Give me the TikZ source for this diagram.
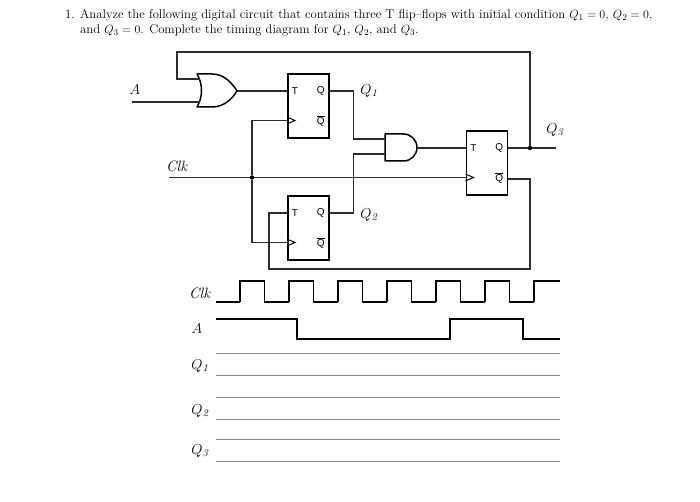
\documentclass[tikz,border=0pt]{standalone}
\usepackage{amsmath}
\usepackage{fontspec}
\usetikzlibrary{positioning, calc}
\newfontfamily\pinfont{Liberation Sans}
\definecolor{colWire}{RGB}{45, 45, 45}
\definecolor{colGrid}{RGB}{135, 135, 135}
\tikzset{
    wire/.style={colWire, line width=1.2pt},
    wave/.style={black, line width=1.6pt},
    gridline/.style={colGrid, line width=1pt},
    ffbox/.style={draw=black, line width=1.7pt, rectangle, minimum width=41pt, minimum height=64pt, inner sep=0pt, anchor=north west},
    pin/.style={font=\pinfont\fontsize{10}{10}\selectfont, inner sep=0pt},
    gateline/.style={draw=black, line width=1.5pt, line join=round},
    dot/.style={circle, fill=black, inner sep=0pt, minimum size=4.5pt},
    lbl/.style={font=\fontsize{15}{15}\selectfont, inner sep=0pt},
    soal/.style={anchor=base west, inner sep=0pt, font=\fontsize{12.65}{12.65}\selectfont}
}
\begin{document}
\begin{tikzpicture}[x=1pt, y=-1pt]
    \useasboundingbox (0, 0) rectangle (700, 502);
    \fill[white] (0, 0) rectangle (700, 502);

    % --- Soal ---
    \node[soal] (nomor) at (65, 19) {1.};
    \node[soal] (baris1) at (80, 19) {Analyze the following digital circuit that contains three T flip--flops with initial condition $Q_1 = 0$, $Q_2 = 0$,};
    \node[soal] (baris2) at (80, 34) {and $Q_3 = 0$. Complete the timing diagram for $Q_1$, $Q_2$, and $Q_3$.};

    % --- Flip-flop ---
    \foreach \name/\x/\y in {ffa/287/73, ffb/287/195, ffc/465.5/130} {
        \node[ffbox] (\name) at (\x, \y) {};
        \coordinate (\name-t) at ($(\name.north west)+(0, 18)$);
        \coordinate (\name-clk) at ($(\name.north west)+(0, 47.5)$);
        \coordinate (\name-q) at ($(\name.north east)+(0, 18)$);
        \coordinate (\name-qn) at ($(\name.north east)+(0, 49)$);
        \node[pin] (\name-tl) at ($(\name-t)+(8, 0)$) {T};
        \node[pin] (\name-ql) at ($(\name-q)+(-9, 0)$) {Q};
        \node[pin] (\name-qnl) at ($(\name-qn)+(-9, -1)$) {$\overline{\text{Q}}$};
        \draw[black, line width=1pt] ($(\name-clk)+(0, -3.5)$) -- ($(\name-clk)+(8, 0)$) -- ($(\name-clk)+(0, 3.5)$);
    }

    % --- Gerbang ---
    % OR
    \draw[gateline] (197, 74) -- (212, 74) .. controls (224, 74) and (232, 83) .. (237, 91)
        .. controls (232, 99) and (224, 107) .. (212, 107) -- (197, 107)
        .. controls (203, 97) and (203, 84) .. (197, 74) -- cycle;
    % AND
    \draw[gateline] (385, 134) -- (403.5, 134) arc[start angle=-90, end angle=90, radius=13.5] -- (385, 161) -- cycle;

    % --- Titik bebas ---
    \coordinate (orin1) at (199.5, 79);
    \coordinate (orin2) at (199.5, 102);
    \coordinate (orout) at (237, 91);
    \coordinate (andin1) at (385, 139);
    \coordinate (andin2) at (385, 154);
    \coordinate (andout) at (417, 148);
    \coordinate (ain) at (132, 102);
    \coordinate (clkin) at (169, 177.5);
    \coordinate (qout) at (556, 148);
    \coordinate (fbtop) at (177, 52);
    \coordinate (fbkanan) at (530, 269);
    \coordinate (fbkiri) at (269, 269);
    \node[dot] (jclk) at (252, 177.5) {};
    \node[dot] (jq) at (530, 148) {};

    % --- Kabel ---
    \draw[wire] (ain) -- (orin2);
    \draw[wire] (jq) |- (fbtop) |- (orin1);
    \draw[wire] (orout) -- (ffa-t);
    \draw[wire] (jclk) |- (ffa-clk);
    \draw[wire] (jclk) |- (ffb-clk);
    \draw[wire] (clkin) -- (jclk) -- (ffc-clk);
    \draw[wire] (ffa-q) -- ++(24, 0) |- (andin1);
    \draw[wire] (ffb-q) -- ++(24, 0) |- (andin2);
    \draw[wire] (andout) -- (ffc-t);
    \draw[wire] (ffc-q) -- (jq) -- (qout);
    \draw[wire] (ffc-qn) -| (fbkanan) -- (fbkiri) |- (ffb-t);

    % --- Label rangkaian ---
    \node[lbl] (la) at (135, 90) {$A$};
    \node[lbl] (lclk) at (177, 166) {\textit{Clk}};
    \node[lbl] (lq1) at (369, 91) {$Q_{\mathit{1}}$};
    \node[lbl] (lq2) at (369, 215) {$Q_{\mathit{2}}$};
    \node[lbl] (lq3) at (555, 130) {$Q_{\mathit{3}}$};

    % --- Diagram waktu ---
    \node[lbl] (tclk) at (200, 293) {\textit{Clk}};
    \node[lbl] (ta) at (197, 329) {$A$};
    \node[lbl] (tq1) at (200, 366) {$Q_{\mathit{1}}$};
    \node[lbl] (tq2) at (200, 411) {$Q_{\mathit{2}}$};
    \node[lbl] (tq3) at (200, 451) {$Q_{\mathit{3}}$};

    % Clk
    \draw[wave] (216, 302) -- (240, 302);
    \foreach \x in {240, 289, 338, 387, 436, 485}
        \draw[wave, line join=miter] (\x, 302) -- (\x, 281) -- (\x+24.5, 281) -- (\x+24.5, 302) -- (\x+49, 302);
    \draw[wave] (534, 302) -- (534, 281) -- (560, 281);

    % A
    \draw[wave] (216, 319) -- (297, 319) -- (297, 339) -- (450, 339) -- (450, 319) -- (523, 319) -- (523, 339) -- (560, 339);

    % Garis isian
    \foreach \y in {353, 375, 397, 419, 439, 461}
        \draw[gridline] (216, \y) -- (560, \y);

\end{tikzpicture}
\end{document}
